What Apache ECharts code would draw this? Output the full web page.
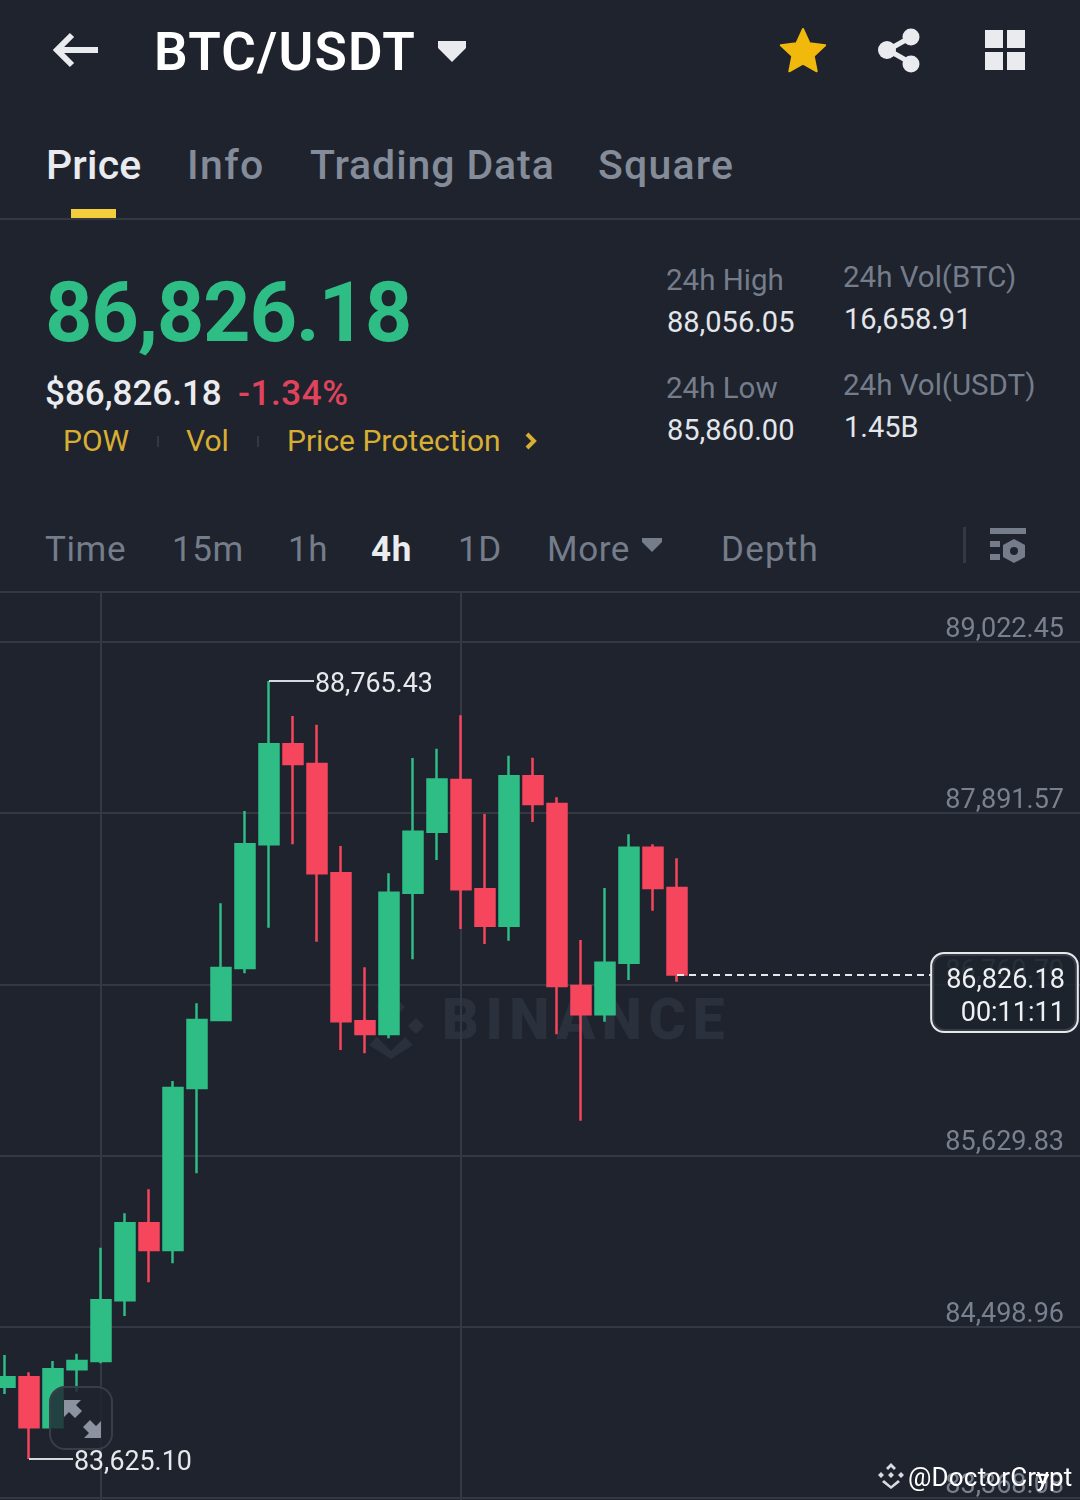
<!DOCTYPE html>
<html>
<head>
<meta charset="utf-8">
<title>BTC/USDT</title>
<script src="https://cdn.jsdelivr.net/npm/echarts@6/dist/echarts.min.js"></script>
<style>
html, body { margin: 0; padding: 0; background: #1e232e; }
#page { position: relative; width: 1080px; height: 1500px; overflow: hidden; background: #1e232e; font-family: Roboto, sans-serif; }
#page > div, #page > svg { position: absolute; white-space: nowrap; }
.tab { top: 141px; font-size: 41px; line-height: 48px; color: #848b99; font-weight: 500; letter-spacing: .9px; }
.gray { color: #757c8a; font-size: 29.5px; line-height: 36px; }
.num { color: #e3e6ea; font-size: 29px; line-height: 36px; }
.yel { top: 423px; color: #d8ae33; font-size: 30px; line-height: 36px; }
.per { top: 528px; color: #757c8a; font-size: 35px; line-height: 44px; letter-spacing: .6px; }
.rule { background: #333842; }
#chart { left: -7px; top: 592px; width: 1104px; height: 908px; }
#mark { left: 442px; top: 987px; font-size: 57px; line-height: 66px; font-weight: 900; letter-spacing: 6.6px; color: #2b313c; }
#expand { left: 49px; top: 1386px; width: 60px; height: 60px; border: 2px solid #383e49; border-radius: 16px; background: rgba(30,35,46,.8); }
</style>
</head>
<body>
<div id="page">
  <svg style="left:52px;top:32px" width="48" height="36" viewBox="0 0 48 36"><path d="M46 18H5M20 3L5 18l15 15" fill="none" stroke="#e9ebef" stroke-width="6"/></svg>
  <div style="left:154px;top:21px;font-size:53px;line-height:62px;font-weight:600;color:#fff;letter-spacing:1.2px">BTC/USDT</div>
  <svg style="left:438px;top:41px" width="28" height="21"><path d="M0 0H28V7L14 21L0 7Z" fill="#e9ebef"/></svg>
  <svg style="left:779px;top:27px" width="48" height="48" viewBox="0 0 48 48"><path d="M24 2l6.6 14.3 15.6 1.9-11.5 10.7 3 15.4L24 36.700 10.300 44.300l3-15.400L1.800 18.200l15.600-1.900z" fill="#f0b90b" stroke="#f0b90b" stroke-width="2" stroke-linejoin="round"/></svg>
  <svg style="left:876px;top:26px" width="46" height="48" viewBox="0 0 46 48"><path d="M12 24L35 11M12 24L35 37" stroke="#e9ebef" stroke-width="5"/><circle cx="11" cy="24" r="9" fill="#e9ebef"/><circle cx="35" cy="11" r="8.500" fill="#e9ebef"/><circle cx="35" cy="38" r="8.500" fill="#e9ebef"/></svg>
  <svg style="left:985px;top:30px" width="40" height="40"><path d="M0 0h18v18H0zM22 0h18v18H22zM0 22h18v18H0zM22 22h18v18H22z" fill="#e9ebef"/></svg>

  <div class="tab" style="left:46px;color:#e9ebef;letter-spacing:.2px">Price</div>
  <div class="tab" style="left:187px;letter-spacing:1.4px">Info</div>
  <div class="tab" style="left:310px">Trading Data</div>
  <div class="tab" style="left:598px;letter-spacing:1.2px">Square</div>
  <div style="left:71px;top:209px;width:45px;height:9px;background:#f3cd3c"></div>
  <div class="rule" style="left:0;top:218px;width:1080px;height:2px"></div>

  <div style="left:45px;top:264px;font-size:83px;line-height:98px;font-weight:700;letter-spacing:-1.3px;color:#2ebd85">86,826.18</div>
  <div style="left:45px;top:373px;font-size:35px;line-height:42px;font-weight:500;color:#eaecef">$86,826.18</div>
  <div style="left:238px;top:373px;font-size:35px;line-height:42px;font-weight:500;letter-spacing:.6px;color:#e0435c">-1.34%</div>
  <div class="yel" style="left:63px">POW</div>
  <div class="rule" style="left:157px;top:436px;width:2px;height:11px"></div>
  <div class="yel" style="left:186px">Vol</div>
  <div class="rule" style="left:257px;top:436px;width:2px;height:11px"></div>
  <div class="yel" style="left:287px">Price Protection</div>
  <svg style="left:524px;top:432px" width="14" height="18"><path d="M3 2l7 7-7 7" fill="none" stroke="#d8ae33" stroke-width="4"/></svg>

  <div class="gray" style="left:666px;top:262px">24h High</div>
  <div class="num" style="left:667px;top:304px">88,056.05</div>
  <div class="gray" style="left:843px;top:259px">24h Vol(BTC)</div>
  <div class="num" style="left:844px;top:301px">16,658.91</div>
  <div class="gray" style="left:666px;top:370px">24h Low</div>
  <div class="num" style="left:667px;top:412px">85,860.00</div>
  <div class="gray" style="left:843px;top:367px">24h Vol(USDT)</div>
  <div class="num" style="left:844px;top:409px">1.45B</div>

  <div class="per" style="left:45px">Time</div>
  <div class="per" style="left:172px">15m</div>
  <div class="per" style="left:288px">1h</div>
  <div class="per" style="left:371px;color:#eaecef;font-weight:700">4h</div>
  <div class="per" style="left:458px">1D</div>
  <div class="per" style="left:547px">More</div>
  <svg style="left:642px;top:538px" width="20" height="15"><path d="M0 0H20V4L10 14L0 4Z" fill="#757c8a"/></svg>
  <div class="per" style="left:721px;letter-spacing:1.200px">Depth</div>
  <div class="rule" style="left:963px;top:527px;width:3px;height:36px"></div>
  <svg style="left:990px;top:528px" width="36" height="36"><path d="M0 0h36v6H0zM0 13h10v6H0zM0 26h10v6H0z" fill="#757c8a"/><path d="M24 11l11 6v12l-11 6-11-6V17z" fill="#757c8a"/><circle cx="24" cy="23" r="4" fill="#1e232e"/></svg>
  <div class="rule" style="left:0;top:591px;width:1080px;height:2px"></div>

  <svg style="left:355px;top:990px" width="72" height="72" viewBox="0 0 72 72" fill="#2b313c"><path d="M36 3L50 17 42 25 36 19 30 25 22 17zM11 28l8 8-8 8-8-8zM61 28l8 8-8 8-8-8zM36 28l8 8-8 8-8-8zM22 47l14 14 14-14 8 8-22 14-22-14z"/></svg>
  <div id="mark">BINANCE</div>

  <div id="chart"></div>

  <div id="expand"><svg width="60" height="60" viewBox="0 0 60 60"><path d="M13 12h17l-5 5 6 6-7 7-6-6-5 5zM50 50H33l5-5-6-6 7-7 6 6 5-5z" fill="#8d92a0"/></svg></div>

  <svg style="left:877px;top:1462px" width="28" height="28" viewBox="0 0 28 28" fill="#d9dbe0"><path d="M14 1l5 5-2 2-3-3-3 3-2-2zM4 10l3 3-3 3-3-3zM24 10l3 3-3 3-3-3zM14 10l3 3-3 3-3-3zM7 18l7 6 7-6 2 2-9 7-9-7z"/></svg>
  <div style="left:908px;top:1461px;font-size:26px;line-height:32px;color:#fff;letter-spacing:.2px">@DoctorCrypt</div>
  <svg style="left:1035px;top:1473px" width="14" height="18"><path d="M1 2h12L5 17M3 9h8" fill="none" stroke="#fff" stroke-width="2"/></svg>
</div>

<script>
// 4h candles, left to right
const opens = [84103, 84165, 83835, 84218, 84273, 84674, 85183, 85006, 86076, 86526, 86869, 87686, 88347, 88217, 87495,
  86517, 86433, 87366, 87769, 88111, 87389, 87148, 88135, 87952, 86750, 86563, 86904, 87664, 87397];
const closes = [84165, 83835, 84218, 84273, 84674, 85183, 85006, 86076, 86526, 86869, 87686, 88347, 88217, 87495, 86517,
  86433, 87366, 87769, 88115, 87389, 87148, 88135, 87952, 86750, 86563, 86904, 87664, 87397, 86826.18];
const lows = [84055, 83625.10, 83835, 84070, 84258, 84570, 84793, 84918, 85513, 86526, 86834, 87135, 87686, 87043, 86327,
  86306, 86405, 86926, 87582, 87127, 87028, 87049, 87833, 86431, 85860, 86514, 86790, 87248, 86779];
const highs = [84313, 84198, 84273, 84321, 85021, 85249, 85407, 86123, 86636, 87296, 87906, 88765.43, 88534, 88476, 87675,
  86874, 87495, 88256, 88318, 88538, 87886, 88271, 88258, 87997, 87054, 87397, 87752, 87686, 87594];
const yTicks = [83368.08, 84498.96, 85629.83, 86760.70, 87891.57, 89022.45];
const yMin = 83354.85;
const yMax = 89352.73;
const lastPrice = 86826.18;
const countdown = '00:11:11';
const highIndex = 11;
const lowIndex = 1;
const gridLineIndexes = [4, 19];
const slotCount = 46;

const slots = [];
for (let i = 0; i < slotCount; i++) {
  slots.push(String(i));
}
const candles = opens.map((o, i) => [o, closes[i], lows[i], highs[i]]);

function money(v) {
  return v.toLocaleString('en-US', { minimumFractionDigits: 2, maximumFractionDigits: 2 });
}

function leader(index, price, endX) {
  return [
    {
      xAxis: index, yAxis: price,
      lineStyle: { color: '#d5d8dd', width: 2, type: 'solid' },
      label: { show: true, position: 'end', distance: 1, offset: [0, 4], formatter: money(price), color: '#e6e8ec', fontSize: 26.8, fontFamily: 'Roboto' }
    },
    { x: endX, yAxis: price }
  ];
}

const chart = echarts.init(document.getElementById('chart'), null, { renderer: 'canvas' });
chart.setOption({
  animation: false,
  backgroundColor: 'transparent',
  grid: { left: 0, top: 0, width: 1104, height: 908 },
  xAxis: {
    type: 'category',
    data: slots,
    axisLine: { show: false },
    axisTick: { show: false },
    axisLabel: { show: false },
    splitLine: {
      show: true,
      alignWithLabel: true,
      interval: (i) => gridLineIndexes.includes(i),
      lineStyle: { color: '#333842', width: 2 }
    }
  },
  yAxis: {
    type: 'value',
    position: 'right',
    min: yMin,
    max: yMax,
    axisLine: { show: false },
    axisTick: { show: false, customValues: yTicks },
    axisLabel: {
      customValues: yTicks,
      inside: true,
      margin: 33,
      color: '#7a818e',
      fontSize: 27,
      fontFamily: 'Roboto',
      verticalAlign: 'bottom',
      lineHeight: 24,
      formatter: money
    },
    splitLine: { show: true, lineStyle: { color: '#333842', width: 2 } }
  },
  series: [{
    type: 'candlestick',
    data: candles,
    barWidth: 19.5,
    itemStyle: {
      color: '#2ebd85',
      color0: '#f6465d',
      borderColor: '#2ebd85',
      borderColor0: '#f6465d',
      borderWidth: 2.5
    },
    markLine: {
      silent: true,
      animation: false,
      symbol: ['none', 'none'],
      data: [
        [
          { xAxis: opens.length - 1, yAxis: lastPrice, lineStyle: { color: '#e6e8ec', width: 2, type: [7, 5] }, label: { show: false } },
          { x: 940, yAxis: lastPrice }
        ],
        leader(highIndex, highs[highIndex], 321),
        leader(lowIndex, lows[lowIndex], 80)
      ]
    },
    markPoint: {
      silent: true,
      animation: false,
      symbolSize: 0,
      data: [{
        coord: [opens.length - 1, lastPrice],
        x: 1011.5,
        label: {
          show: true,
          position: 'inside',
          offset: [0, 18],
          backgroundColor: 'rgba(30,35,46,.88)',
          borderColor: '#e6e8ec',
          borderWidth: 2,
          borderRadius: 12,
          padding: [11, 12, 0, 14],
          formatter: '{p|' + money(lastPrice) + '}\n{p|' + countdown + '}',
          rich: { p: { color: '#eef0f3', fontSize: 27, fontFamily: 'Roboto', lineHeight: 33, align: 'right' } }
        }
      }]
    }
  }]
});
</script>
</body>
</html>
